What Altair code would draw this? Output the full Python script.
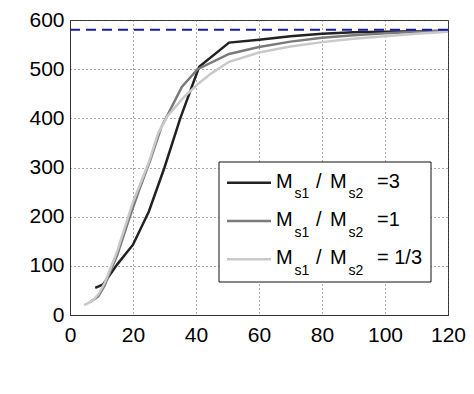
import altair as alt
import pandas as pd

# ---- data ----
x_ticks = [0, 20, 40, 60, 80, 100, 120]
y_ticks = [0, 100, 200, 300, 400, 500, 600]
ref_level = 580

labels = ["3", "1", "1/3"]
legend_suffix = ["=3", "=1", "= 1/3"]
colors = ["#222222", "#7a7a7a", "#c9c9c9"]

black_x = [8, 10.5, 13, 15, 20, 25, 30, 35, 41, 50.5, 60, 70, 80, 90, 100, 110, 120]
black_y = [55, 62, 85, 103, 143, 210, 300, 400, 505, 554, 560, 567, 572, 575, 576, 577, 578]

dark_x = [6.5, 9, 11, 13, 15, 19, 22, 25.5, 29, 35.5, 40.5, 50.5, 60, 70, 80, 90, 100, 110, 120]
dark_y = [27, 38, 60, 92, 122, 200, 255, 315, 382, 464, 500, 531, 545, 556, 564, 569, 573, 576, 578]

light_x = [4.5, 7, 9, 11, 13, 15, 18, 20, 25, 28, 31, 36, 41, 45, 50.5, 60, 70, 80, 90, 100, 110, 120]
light_y = [20, 28, 42, 65, 97, 130, 190, 230, 310, 370, 405, 442, 472, 492, 515, 534, 546, 555, 562, 567, 572, 576]

rows = []
for lab, xs_, ys_ in zip(labels, [black_x, dark_x, light_x], [black_y, dark_y, light_y]):
    for i, (xv, yv) in enumerate(zip(xs_, ys_)):
        rows.append({"s": lab, "x": xv, "y": yv, "i": i})
df = pd.DataFrame(rows)

FONT = "Liberation Sans"
TOP = 12           # plot top at 20px on the page
W, H = 378, 295    # plot bottom stays at 315px

xs = alt.Scale(domain=[0, 120], nice=False, zero=False)
ys = alt.Scale(domain=[0, 600], nice=False)

lines = alt.Chart(df).mark_line(strokeWidth=2.5, clip=True).encode(
    x=alt.X("x:Q", scale=xs, title=None,
            axis=alt.Axis(values=x_ticks, labelPadding=9)),
    y=alt.Y("y:Q", scale=ys, title=None,
            axis=alt.Axis(values=y_ticks, labelPadding=6)),
    color=alt.Color("s:N", scale=alt.Scale(domain=labels, range=colors), legend=None),
    order=alt.Order("i:Q"),
)

ref = alt.Chart(pd.DataFrame({"y": [ref_level]})).mark_rule(
    color="#1a1aa0", strokeWidth=2, strokeDash=[10, 6]
).encode(y=alt.Y("y:Q", scale=ys))

dummy = pd.DataFrame({"_": [0]})

# ---- custom legend (with subscripts); page coords minus plot origin ----
oy = 8 + TOP
layers = [lines, ref]
layers.append(alt.Chart(dummy).mark_rect(fill="white", stroke="#111111", strokeWidth=1).encode(
    x=alt.value(149), x2=alt.value(361), y=alt.value(162 - oy), y2=alt.value(282 - oy)))
line_ys = [182.7 - oy, 221 - oy, 259.3 - oy]
for ly, col, suf in zip(line_ys, colors, legend_suffix):
    layers.append(alt.Chart(dummy).mark_rule(color=col, strokeWidth=2.5).encode(
        x=alt.value(157), x2=alt.value(201), y=alt.value(ly)))
    pieces = [
        ("M", 206, ly + 5, 20),
        ("s1", 224.5, ly + 15.5, 14),
        ("/", 246, ly + 5, 20),
        ("M", 260, ly + 5, 20),
        ("s2", 278.5, ly + 15.5, 14),
        (suf, 307, ly + 5, 20),
    ]
    for txt, px, py, fs in pieces:
        layers.append(alt.Chart(dummy).mark_text(
            font=FONT, fontSize=fs, align="left", baseline="alphabetic", color="#000000"
        ).encode(x=alt.value(px), y=alt.value(py), text=alt.value(txt)))

chart = alt.layer(*layers).properties(
    width=W, height=H,
    autosize=alt.AutoSizeParams(type="none"),
    padding={"left": 62, "top": TOP, "right": 18, "bottom": 71},
).configure_axis(
    labelFont=FONT, labelFontSize=21, labelColor="#000000",
    labelFlush=False, labelOverlap=False,
    ticks=False,
    domainColor="#333333", domainWidth=1,
    grid=True, gridColor="#555555", gridDash=[1, 3], gridOpacity=1, gridWidth=1,
).configure_view(stroke="#333333", strokeWidth=1)

chart.save("out.html", embed_options={"renderer": "svg", "actions": False})
